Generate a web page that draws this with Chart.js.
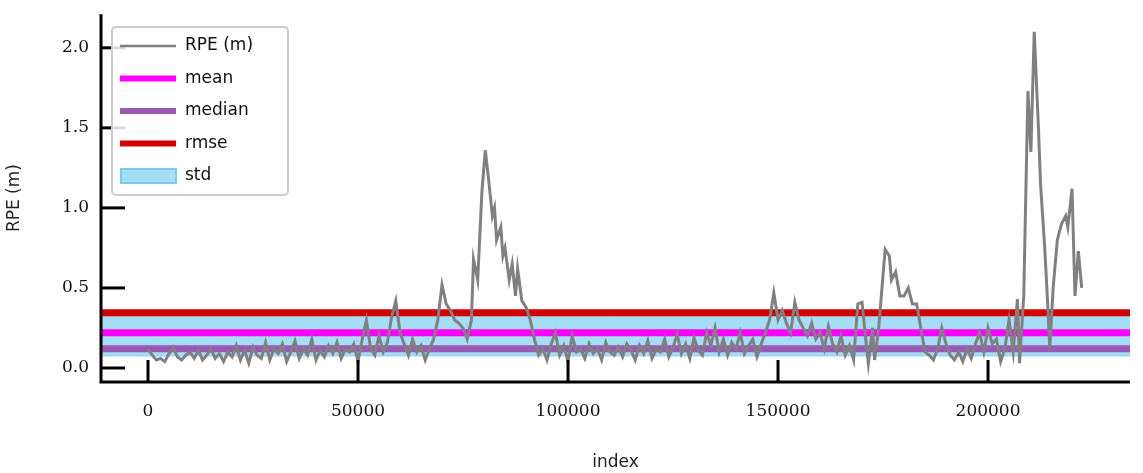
<!DOCTYPE html>
<html><head><meta charset="utf-8">
<script src="https://cdn.jsdelivr.net/npm/chart.js@4/dist/chart.umd.min.js"></script>
<style>html,body{margin:0;padding:0;background:#fff}#w{width:1143px;height:473px}</style>
</head><body><div id="w"><canvas id="c"></canvas></div>
<script>
const indexK = [0,1,2,3,4,5,6,7,8,9,10,11,12,13,14,15,16,17,18,19,20,21,22,23,24,25,26,27,28,29,30,31,32,33,34,35,36,37,38,39,40,41,42,43,44,45,46,47,48,49,50,51,52,53,54,55,56,57,58,59,60,61,62,63,64,65,66,67,68,69,70,71,72,73,74,75,76,77,77.5,78.5,79.5,80.3,81,82,82.5,83,84,84.5,85,86,86.7,87.5,88,89,90,91,92,93,94,95,96,97,98,99,100,101,102,103,104,105,106,107,108,109,110,111,112,113,114,115,116,117,118,119,120,121,122,123,124,125,126,127,128,129,130,131,132,133,134,135,136,137,138,139,140,141,142,143,144,145,146,147,148,149,150,151,152,153,154,155,156,157,158,159,160,161,162,163,164,165,166,167,168,169,170,171,171.5,172.5,173,174,175.5,176.5,177,178,179,180,181,182,183,184,185,186,187,188,189,190,191,192,193,194,195,196,197,198,199,200,201,202,203,204,205,206,207,207.5,208.5,209.5,210.2,211,212,212.5,213.5,214.2,214.7,215.5,216.5,217.5,218.5,219,220,220.7,221.5,222.3];
const rpe = [0.12,0.08,0.05,0.06,0.04,0.09,0.13,0.07,0.05,0.08,0.10,0.06,0.11,0.05,0.08,0.12,0.06,0.09,0.04,0.10,0.07,0.14,0.05,0.11,0.03,0.13,0.08,0.06,0.16,0.05,0.12,0.09,0.15,0.04,0.10,0.17,0.06,0.12,0.08,0.18,0.05,0.11,0.07,0.14,0.09,0.16,0.06,0.12,0.10,0.15,0.04,0.18,0.30,0.12,0.08,0.20,0.10,0.16,0.32,0.42,0.22,0.15,0.08,0.18,0.10,0.14,0.05,0.12,0.18,0.30,0.52,0.40,0.36,0.30,0.28,0.25,0.18,0.30,0.68,0.55,1.10,1.36,1.20,0.95,1.00,0.80,0.88,0.70,0.75,0.55,0.65,0.45,0.62,0.42,0.38,0.30,0.18,0.08,0.12,0.05,0.15,0.22,0.08,0.14,0.04,0.20,0.10,0.12,0.06,0.15,0.09,0.12,0.05,0.16,0.10,0.08,0.13,0.07,0.15,0.11,0.05,0.14,0.09,0.17,0.06,0.12,0.10,0.18,0.07,0.13,0.21,0.09,0.15,0.06,0.19,0.11,0.08,0.22,0.14,0.25,0.10,0.18,0.08,0.16,0.12,0.22,0.09,0.14,0.18,0.07,0.15,0.22,0.30,0.47,0.30,0.36,0.28,0.22,0.41,0.30,0.25,0.20,0.28,0.18,0.22,0.12,0.26,0.15,0.10,0.20,0.08,0.14,0.05,0.40,0.41,0.15,0.03,0.25,0.05,0.26,0.74,0.70,0.55,0.60,0.45,0.45,0.50,0.40,0.40,0.25,0.10,0.08,0.05,0.12,0.25,0.15,0.08,0.05,0.10,0.04,0.12,0.06,0.15,0.22,0.10,0.25,0.15,0.18,0.04,0.12,0.30,0.10,0.43,0.03,0.45,1.73,1.35,2.10,1.50,1.15,0.75,0.40,0.12,0.50,0.80,0.90,0.95,0.88,1.12,0.45,0.73,0.50];
const stats = {mean:0.22, median:0.12, rmse:0.345, stdLow:0.075, stdHigh:0.32};
const xTicks = [0,50000,100000,150000,200000];
const yTicks = [0.0,0.5,1.0,1.5,2.0];
const XMIN=-11190, XMAX=233800, YMIN=-0.0875, YMAX=2.21;

const hline = v => [{x:XMIN,y:v},{x:XMAX,y:v}];
const legendItems = [
 {label:'RPE (m)', color:'#808080', w:2.5},
 {label:'mean', color:'#ff00ff', w:6},
 {label:'median', color:'#9b59b6', w:6},
 {label:'rmse', color:'#d40000', w:6},
 {label:'std', band:true}
];
const deco = {
 id:'deco',
 afterDraw(ch){
  const c=ch.ctx, xs=ch.scales.x, ys=ch.scales.y, a=ch.chartArea;
  c.save();
  c.strokeStyle='#000'; c.lineWidth=3;
  c.beginPath();
  c.moveTo(a.left,a.top); c.lineTo(a.left,a.bottom); c.lineTo(a.right,a.bottom);
  c.stroke();
  yTicks.forEach(v=>{const y=ys.getPixelForValue(v);c.beginPath();c.moveTo(a.left,y);c.lineTo(a.left+24,y);c.stroke();});
  xTicks.forEach(v=>{const x=xs.getPixelForValue(v);c.beginPath();c.moveTo(x,a.bottom);c.lineTo(x,a.bottom-22);c.stroke();});
  const lx=112, ly=27, lw=176, lh=168;
  c.fillStyle='rgba(255,255,255,0.85)'; c.strokeStyle='#cccccc'; c.lineWidth=2;
  c.beginPath(); c.roundRect(lx,ly,lw,lh,4); c.fill(); c.stroke();
  c.font='17px "DejaVu Sans"'; c.textBaseline='middle'; c.textAlign='left';
  legendItems.forEach((it,i)=>{
   const y=46+i*32.5;
   if(it.band){c.fillStyle='#a6dcf5';c.strokeStyle='#7ccbef';c.lineWidth=2;c.fillRect(121,y-7,55,14);c.strokeRect(121,y-7,55,14);}
   else{c.strokeStyle=it.color;c.lineWidth=it.w;c.beginPath();c.moveTo(120,y);c.lineTo(176,y);c.stroke();}
   c.fillStyle='#111'; c.fillText(it.label,185,y);
  });
  c.restore();
 }
};
new Chart(document.getElementById('c'),{
 type:'line',
 data:{datasets:[
  {data:hline(stats.stdLow),borderColor:'#8fd3f3',borderWidth:1,pointRadius:0,fill:false,order:5},
  {data:hline(stats.stdHigh),borderColor:'#8fd3f3',borderWidth:1,pointRadius:0,fill:'-1',backgroundColor:'rgba(160,218,245,0.95)',order:5},
  {data:hline(stats.median),borderColor:'#9b59b6',borderWidth:7,pointRadius:0,order:4},
  {data:hline(stats.mean),borderColor:'#ff00ff',borderWidth:7,pointRadius:0,order:3},
  {data:hline(stats.rmse),borderColor:'#d40000',borderWidth:7,pointRadius:0,order:2},
  {data:indexK.map((k,i)=>({x:k*1000,y:rpe[i]})),borderColor:'#808080',borderWidth:3,pointRadius:0,tension:0,order:1}
 ]},
 options:{
  responsive:true,maintainAspectRatio:false,animation:false,
  layout:{padding:{top:14,right:13,left:0,bottom:0}},
  plugins:{legend:{display:false},tooltip:{enabled:false}},
  scales:{
   x:{type:'linear',min:XMIN,max:XMAX,
      afterBuildTicks:s=>{s.ticks=xTicks.map(v=>({value:v}));},
      afterFit:s=>{s.height=91;},
      grid:{display:false},border:{display:false},
      ticks:{padding:11,color:'#111',font:{family:'DejaVu Serif',size:17},callback:v=>String(v)},
      title:{display:true,text:'index',color:'#222',font:{family:'DejaVu Sans',size:17},padding:{top:2,bottom:0}}},
   y:{min:YMIN,max:YMAX,
      afterBuildTicks:s=>{s.ticks=yTicks.map(v=>({value:v}));},
      afterFit:s=>{s.width=101;},
      grid:{display:false},border:{display:false},
      ticks:{padding:4,color:'#111',font:{family:'DejaVu Serif',size:17},callback:v=>v.toFixed(1)},
      title:{display:true,text:'RPE (m)',color:'#222',font:{family:'DejaVu Sans',size:17},padding:{bottom:6}}}
  }
 },
 plugins:[deco]
});
</script></body></html>
